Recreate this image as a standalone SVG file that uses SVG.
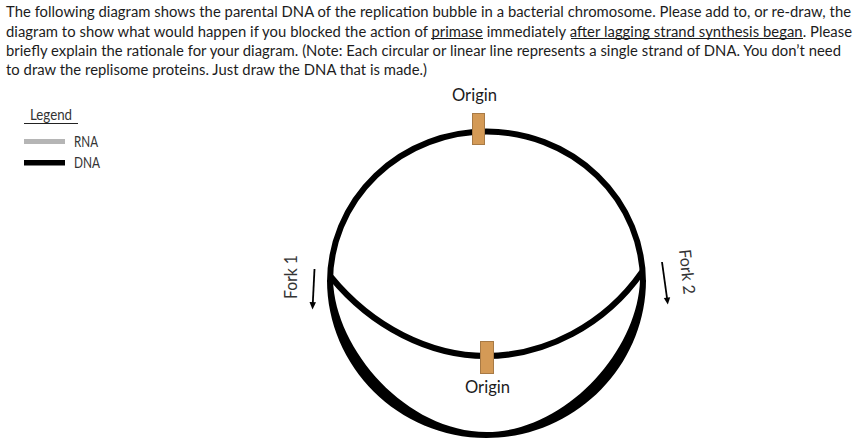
<svg xmlns="http://www.w3.org/2000/svg" width="856" height="443" viewBox="0 0 856 443">
<style>
text{font-family:"Lato","Open Sans","Liberation Sans",sans-serif;fill:#1c1c1c}
.q{font-size:14.800px}
.l{font-size:14.500px;fill:#333}
.o{font-size:16.500px}
.f{font-size:16.500px;fill:#333}
.dna{fill:none;stroke:#000;stroke-width:6}
.ori{fill:#d49a56;stroke:#a87a45;stroke-width:1}
.u{stroke:#1c1c1c;stroke-width:1;fill:none}
</style>
<rect width="856" height="443" fill="#fff"/>
<g id="question">
<text class="q" x="6" y="17" textLength="845" lengthAdjust="spacing">The following diagram shows the parental DNA of the replication bubble in a bacterial chromosome. Please add to, or re-draw, the</text>
<text class="q" x="6" y="37" textLength="846" lengthAdjust="spacing">diagram to show what would happen if you blocked the action of primase immediately after lagging strand synthesis began. Please</text>
<text class="q" x="6" y="56" textLength="835" lengthAdjust="spacing">briefly explain the rationale for your diagram. (Note: Each circular or linear line represents a single strand of DNA. You don’t need</text>
<text class="q" x="6" y="75" textLength="421" lengthAdjust="spacing">to draw the replisome proteins. Just draw the DNA that is made.)</text>
<path class="u" d="M431 38.500H483M571 38.500H803"/>
</g>
<g id="legend">
<text class="l" x="30" y="120" textLength="42" lengthAdjust="spacingAndGlyphs">Legend</text>
<path d="M24 123.500H78" stroke="#222" stroke-width="1.200" fill="none"/>
<rect x="24" y="139" width="41" height="5" fill="#b5b5b5"/>
<rect x="24" y="160" width="41" height="5.500" fill="#000"/>
<text class="l" x="74" y="147" textLength="24" lengthAdjust="spacingAndGlyphs">RNA</text>
<text class="l" x="74" y="168" textLength="26" lengthAdjust="spacingAndGlyphs">DNA</text>
</g>
<g id="connectors">
<path class="dna" d="M330 282A156.500 150.500 0 0 1 643 282"/>
<path class="dna" d="M331 277C372 327 430 356 486 356C545 356 605 325 642 272"/>
<path d="M327 280C327 366.500 398.500 438 486.500 438C574.500 438 646 366.500 646 280L640 280C638 350 566 432 486.500 432C407 432 335 350 333 280Z" fill="#000"/>
</g>
<g id="origin-top">
<rect class="ori" x="472.500" y="113.500" width="12" height="31"/>
<text class="o" x="452" y="101" textLength="45" lengthAdjust="spacingAndGlyphs">Origin</text>
</g>
<g id="origin-bottom">
<rect class="ori" x="480.500" y="341.500" width="13" height="32"/>
<text class="o" x="465" y="393" textLength="45" lengthAdjust="spacingAndGlyphs">Origin</text>
</g>
<g id="fork-1">
<text class="f" transform="translate(297 299) rotate(-90)" textLength="44" lengthAdjust="spacingAndGlyphs">Fork 1</text>
<path d="M314.500 269L312.800 303" stroke="#000" stroke-width="1.800" fill="none"/>
<path d="M309.500 302L316 302.300L312.500 309.500Z" fill="#000"/>
</g>
<g id="fork-2">
<text class="f" transform="translate(679 250) rotate(84)" textLength="45" lengthAdjust="spacingAndGlyphs">Fork 2</text>
<path d="M662 262L667 298" stroke="#000" stroke-width="1.800" fill="none"/>
<path d="M663.800 298L670.200 297.200L667.800 304.500Z" fill="#000"/>
</g>
</svg>
